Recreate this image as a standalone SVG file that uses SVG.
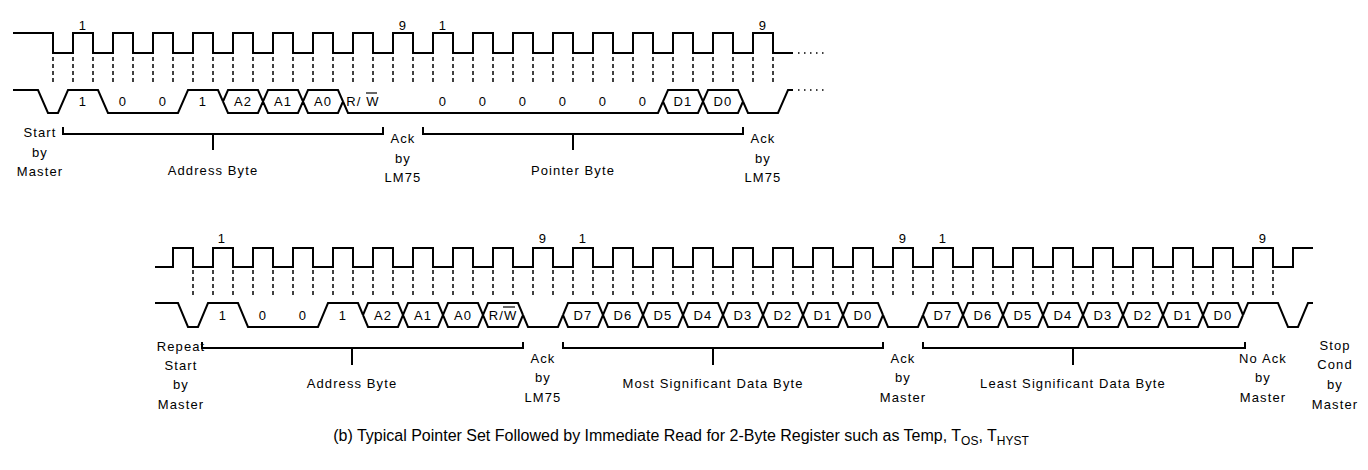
<svg xmlns="http://www.w3.org/2000/svg" width="1368" height="470" viewBox="0 0 1368 470">
<style>
.w{fill:none;stroke:#000;stroke-width:2}
.t{font-family:"Liberation Sans",Arial,sans-serif;font-size:13px;letter-spacing:1.1px;text-anchor:middle;fill:#000}
.c{font-family:"Liberation Sans",Arial,sans-serif;font-size:16px;text-anchor:middle;fill:#000}
.dot{stroke:#000;stroke-width:1.5;stroke-dasharray:1.5,4.5}
</style>
<defs>
<pattern id="p1" patternUnits="userSpaceOnUse" x="52" y="57" width="20" height="28"><line x1="1" y1="0" x2="1" y2="28" stroke="#000" stroke-width="1.5" stroke-dasharray="4,3"/></pattern>
<pattern id="p2" patternUnits="userSpaceOnUse" x="192" y="270" width="20" height="28"><line x1="1" y1="0" x2="1" y2="28" stroke="#000" stroke-width="1.5" stroke-dasharray="4,3"/></pattern>
</defs>
<rect fill="#fff" width="1368" height="470"/>
<g id="top-scl">
<path class="w" d="M13,33 H53 V53 H73 V33 H93 V53 H113 V33 H133 V53 H153 V33 H173 V53 H193 V33 H213 V53 H233 V33 H253 V53 H273 V33 H293 V53 H313 V33 H333 V53 H353 V33 H373 V53 H393 V33 H413 V53 H433 V33 H453 V53 H473 V33 H493 V53 H513 V33 H533 V53 H553 V33 H573 V53 H593 V33 H613 V53 H633 V33 H653 V53 H673 V33 H693 V53 H713 V33 H733 V53 H753 V33 H773 V53 H793"/>
<line class="dot" x1="798" y1="53" x2="828" y2="53"/>
<rect x="52" y="57" width="723" height="28" fill="url(#p1)"/>
<text class="t" x="83" y="30">1</text><text class="t" x="403" y="30">9</text><text class="t" x="443" y="30">1</text><text class="t" x="763" y="30">9</text>
</g>
<g id="top-sda">
<path class="w" d="M13,90 H38 L48,113 H58 L68,90 H98 L108,113 H178 L188,90 H218 L223,101.5 M343,101.5 L348,113 H658 L663,101.5 M743,101.5 L748,113 H778 L788,90 H793"/>
<path class="w" d="M223,101.5 L228,90 H258 L268,113 H298 L308,90 H338 L343,101.5 M223,101.5 L228,113 H258 L268,90 H298 L308,113 H338 L343,101.5"/>
<path class="w" d="M663,101.5 L668,90 H698 L708,113 H738 L743,101.5 M663,101.5 L668,113 H698 L708,90 H738 L743,101.5"/>
<line class="dot" x1="798" y1="90" x2="828" y2="90"/>
<g class="t"><text x="83" y="106">1</text><text x="123" y="106">0</text><text x="163" y="106">0</text><text x="203" y="106">1</text><text x="243" y="106">A2</text><text x="283" y="106">A1</text><text x="323" y="106">A0</text><text x="363" y="106">R/ W</text>
<text x="443" y="106">0</text><text x="483" y="106">0</text><text x="523" y="106">0</text><text x="563" y="106">0</text><text x="603" y="106">0</text><text x="643" y="106">0</text><text x="683" y="106">D1</text><text x="723" y="106">D0</text></g>
<line x1="366" y1="93" x2="377" y2="93" stroke="#000" stroke-width="1.2"/>
</g>
<g id="top-brackets">
<path class="w" stroke-width="1.5" d="M63,127 V134 H383 V127 M213,134 V150 M423,127 V134 H743 V127 M573,134 V150"/>
<g class="t"><text x="40" y="137">Start</text><text x="40" y="157">by</text><text x="40" y="176">Master</text>
<text x="213" y="175">Address Byte</text>
<text x="403" y="143">Ack</text><text x="403" y="163">by</text><text x="403" y="182">LM75</text>
<text x="573" y="175">Pointer Byte</text>
<text x="763" y="143">Ack</text><text x="763" y="163">by</text><text x="763" y="182">LM75</text></g>
</g>
<g id="bot-scl">
<path class="w" d="M155,267 H173 V248 H193 V267 H213 V248 H233 V267 H253 V248 H273 V267 H293 V248 H313 V267 H333 V248 H353 V267 H373 V248 H393 V267 H413 V248 H433 V267 H453 V248 H473 V267 H493 V248 H513 V267 H533 V248 H553 V267 H573 V248 H593 V267 H613 V248 H633 V267 H653 V248 H673 V267 H693 V248 H713 V267 H733 V248 H753 V267 H773 V248 H793 V267 H813 V248 H833 V267 H853 V248 H873 V267 H893 V248 H913 V267 H933 V248 H953 V267 H973 V248 H993 V267 H1013 V248 H1033 V267 H1053 V248 H1073 V267 H1093 V248 H1113 V267 H1133 V248 H1153 V267 H1173 V248 H1193 V267 H1213 V248 H1233 V267 H1253 V248 H1273 V267 H1293 V248 H1313"/>
<rect x="192" y="270" width="1083" height="28" fill="url(#p2)"/>
<g class="t"><text x="222" y="243">1</text><text x="543" y="243">9</text><text x="583" y="243">1</text><text x="903" y="243">9</text><text x="943" y="243">1</text><text x="1263" y="243">9</text></g>
</g>
<g id="bot-sda">
<path class="w" d="M155,303 H178 L188,327 H198 L208,303 H238 L248,327 H318 L328,303 H358 L363,315 M523,315 L528,327 H558 L563,315 M883,315 L888,327 H918 L923,315 M1243,315 L1248,303 H1278 L1288,327 H1298 L1308,303 H1313"/>
<path class="w" d="M363,315 L368,303 H398 L408,327 H438 L448,303 H478 L488,327 H518 L523,315 M363,315 L368,327 H398 L408,303 H438 L448,327 H478 L488,303 H518 L523,315"/>
<path class="w" d="M563,315 L568,303 H598 L608,327 H638 L648,303 H678 L688,327 H718 L728,303 H758 L768,327 H798 L808,303 H838 L848,327 H878 L883,315 M563,315 L568,327 H598 L608,303 H638 L648,327 H678 L688,303 H718 L728,327 H758 L768,303 H798 L808,327 H838 L848,303 H878 L883,315"/>
<path class="w" d="M923,315 L928,303 H958 L968,327 H998 L1008,303 H1038 L1048,327 H1078 L1088,303 H1118 L1128,327 H1158 L1168,303 H1198 L1208,327 H1238 L1243,315 M923,315 L928,327 H958 L968,303 H998 L1008,327 H1038 L1048,303 H1078 L1088,327 H1118 L1128,303 H1158 L1168,327 H1198 L1208,303 H1238 L1243,315"/>
<g class="t"><text x="223" y="320">1</text><text x="263" y="320">0</text><text x="303" y="320">0</text><text x="343" y="320">1</text><text x="383" y="320">A2</text><text x="423" y="320">A1</text><text x="463" y="320">A0</text><text x="503" y="320">R/W</text>
<text x="583" y="320">D7</text><text x="623" y="320">D6</text><text x="663" y="320">D5</text><text x="703" y="320">D4</text><text x="743" y="320">D3</text><text x="783" y="320">D2</text><text x="823" y="320">D1</text><text x="863" y="320">D0</text>
<text x="943" y="320">D7</text><text x="983" y="320">D6</text><text x="1023" y="320">D5</text><text x="1063" y="320">D4</text><text x="1103" y="320">D3</text><text x="1143" y="320">D2</text><text x="1183" y="320">D1</text><text x="1223" y="320">D0</text></g>
<line x1="503" y1="307" x2="515" y2="307" stroke="#000" stroke-width="1.2"/>
</g>
<g id="bot-brackets">
<path class="w" stroke-width="1.5" d="M202,342 V348 H523 V342 M352,348 V365 M563,342 V348 H883 V342 M713,348 V365 M923,342 V348 H1245 V342 M1073,348 V365"/>
<g class="t"><text x="181" y="351">Repeat</text><text x="181" y="370">Start</text><text x="181" y="389">by</text><text x="181" y="409">Master</text>
<text x="352" y="388">Address Byte</text>
<text x="543" y="363">Ack</text><text x="543" y="382">by</text><text x="543" y="402">LM75</text>
<text x="713" y="388">Most Significant Data Byte</text>
<text x="903" y="363">Ack</text><text x="903" y="382">by</text><text x="903" y="402">Master</text>
<text x="1073" y="388">Least Significant Data Byte</text>
<text x="1263" y="363">No Ack</text><text x="1263" y="382">by</text><text x="1263" y="402">Master</text>
<text x="1335" y="350">Stop</text><text x="1335" y="369">Cond</text><text x="1335" y="389">by</text><text x="1335" y="409">Master</text></g>
</g>
<text class="c" x="681" y="441">(b) Typical Pointer Set Followed by Immediate Read for 2‑Byte Register such as Temp, T<tspan font-size="12" dy="4">OS</tspan><tspan dy="-4">, T</tspan><tspan font-size="12" dy="4">HYST</tspan></text>
</svg>
